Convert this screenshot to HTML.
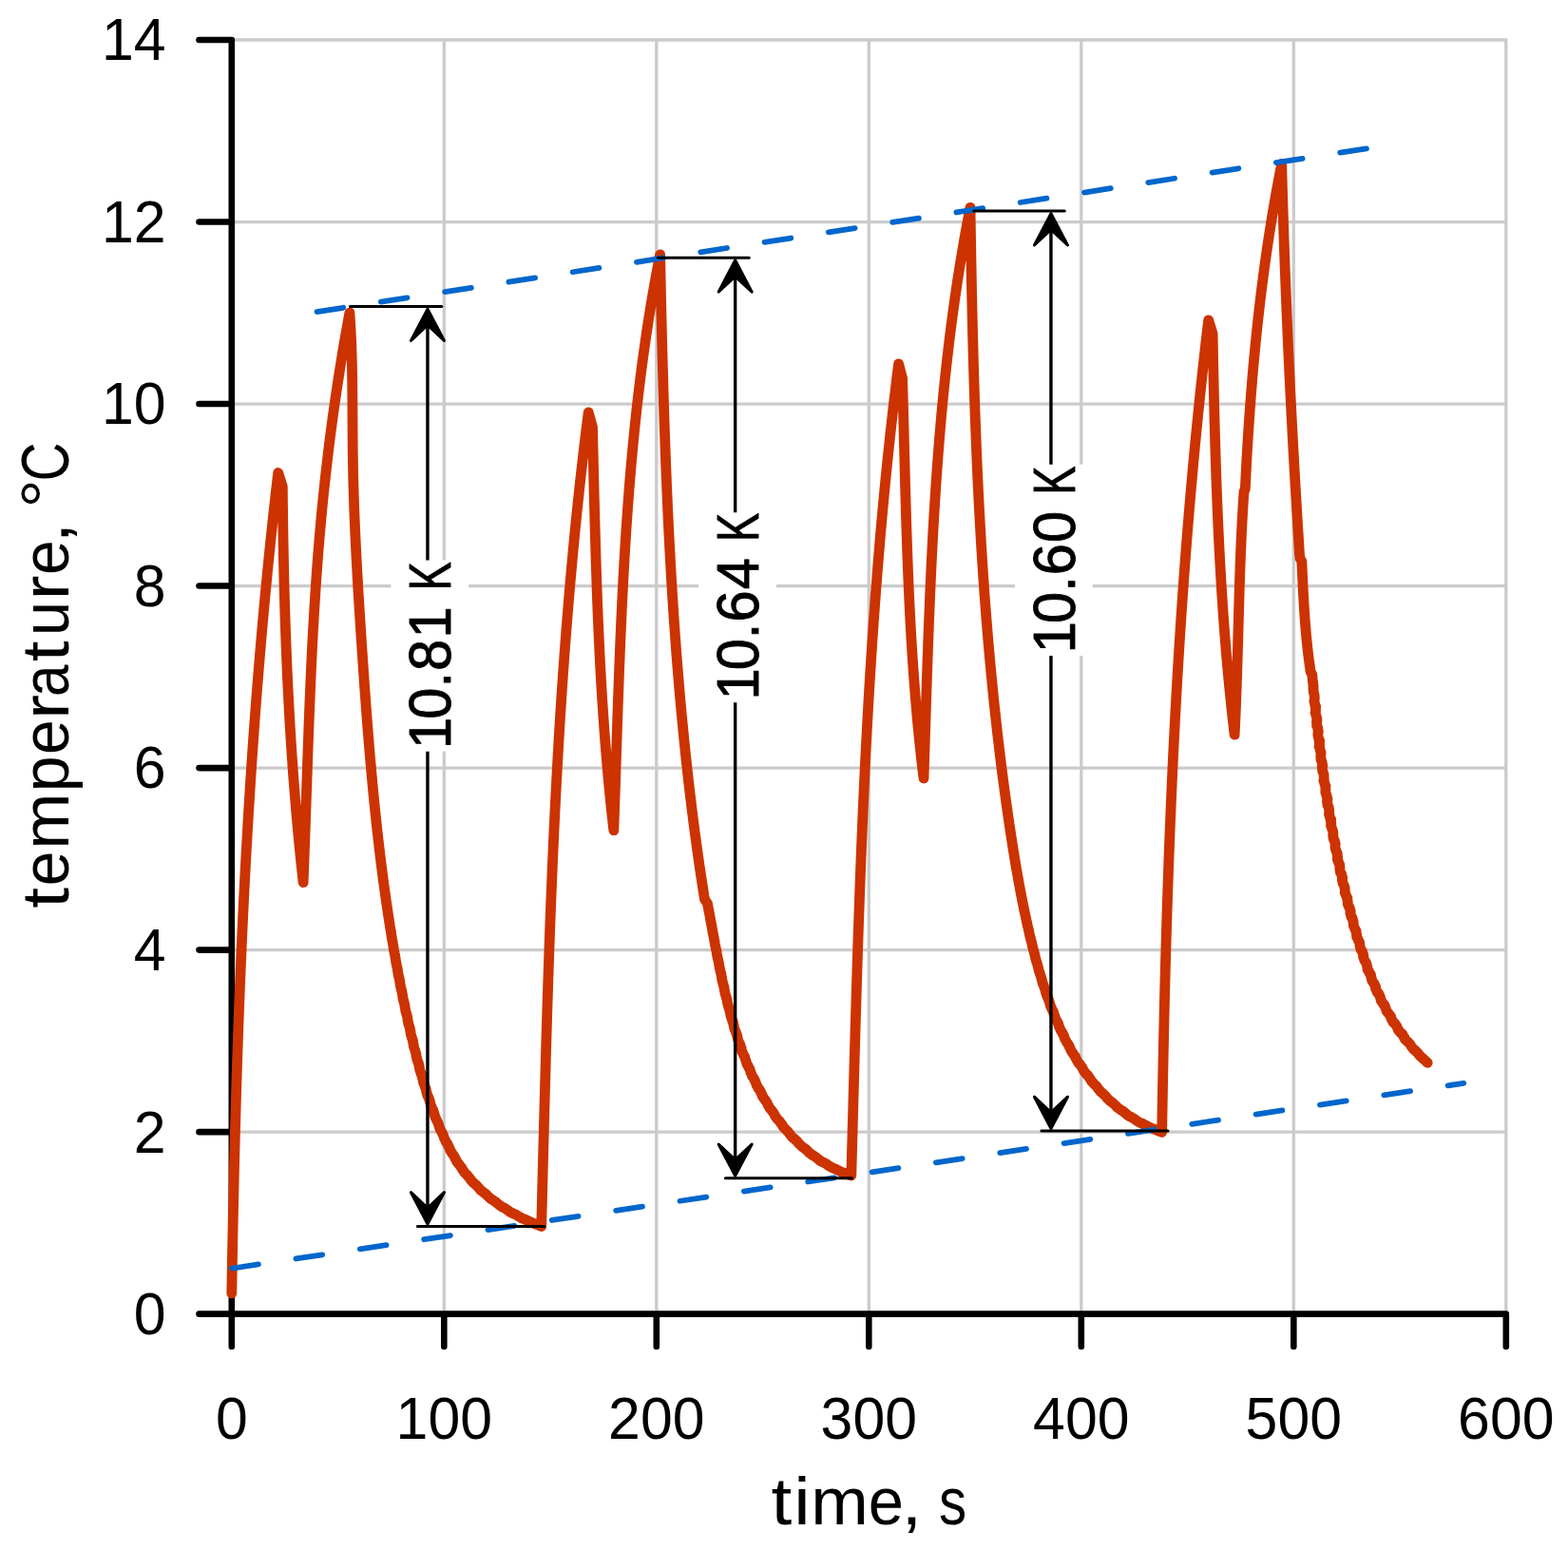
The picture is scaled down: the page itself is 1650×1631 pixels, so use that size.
<!DOCTYPE html>
<html lang="en">
<head>
<meta charset="utf-8">
<title>temperature vs time</title>
<style>
html,body{margin:0;padding:0;background:#fff;}
body{width:1650px;height:1631px;overflow:hidden;}
svg{display:block;}
text{white-space:pre;}
</style>
</head>
<body>
<svg xmlns="http://www.w3.org/2000/svg" width="1650" height="1631" viewBox="0 0 1650 1631">
<rect width="1650" height="1631" fill="#fff"/>
<path d="M243.80 1382.65H1586.45M243.80 1191.13H1586.45M243.80 999.61H1586.45M243.80 808.09H1586.45M243.80 616.57H1586.45M243.80 425.05H1586.45M243.80 233.53H1586.45M243.80 42.01H1586.45M243.80 1382.65V40.36M467.30 1382.65V40.36M690.80 1382.65V40.36M914.30 1382.65V40.36M1137.80 1382.65V40.36M1361.30 1382.65V40.36M1584.80 1382.65V40.36" fill="none" stroke="#cbcbcb" stroke-width="3.3"/>
<rect x="411.4" y="589.4" width="81.7" height="201.3" fill="#fff"/>
<rect x="735.2" y="539.2" width="81.6" height="200.1" fill="#fff"/>
<rect x="1068.0" y="488.7" width="81.7" height="201.4" fill="#fff"/>
<path d="M243.80 42.01V1382.65M243.80 1382.65H1584.80M209.50 1382.65H243.80M209.50 1191.13H243.80M209.50 999.61H243.80M209.50 808.09H243.80M209.50 616.57H243.80M209.50 425.05H243.80M209.50 233.53H243.80M209.50 42.01H243.80M243.80 1382.65V1417.00M467.30 1382.65V1417.00M690.80 1382.65V1417.00M914.30 1382.65V1417.00M1137.80 1382.65V1417.00M1361.30 1382.65V1417.00M1584.80 1382.65V1417.00" fill="none" stroke="#000" stroke-width="6.6" stroke-linecap="round" stroke-linejoin="round"/>
<path d="M243.80 1360.90L243.87 1356.90L243.94 1352.89L244.01 1348.89L244.07 1344.88L244.15 1340.88L244.22 1336.88L244.29 1332.87L244.36 1328.87L244.44 1324.86L244.51 1320.86L244.59 1316.86L244.66 1312.85L244.74 1308.85L244.82 1304.84L244.90 1300.84L244.97 1296.84L245.06 1292.83L245.14 1288.83L245.22 1284.82L245.30 1280.82L245.39 1276.81L245.47 1272.81L245.56 1268.81L245.64 1264.80L245.73 1260.80L245.82 1256.79L245.91 1252.79L246.00 1248.78L246.09 1244.78L246.19 1240.78L246.28 1236.77L246.38 1232.77L246.47 1228.76L246.57 1224.76L246.67 1220.75L246.77 1216.75L246.87 1212.74L246.97 1208.74L247.07 1204.74L247.17 1200.73L247.28 1196.73L247.38 1192.72L247.49 1188.72L247.60 1184.71L247.71 1180.71L247.82 1176.71L247.93 1172.70L248.04 1168.70L248.16 1164.69L248.27 1160.69L248.39 1156.69L248.51 1152.68L248.63 1148.68L248.75 1144.67L248.87 1140.67L248.99 1136.67L249.12 1132.66L249.24 1128.66L249.37 1124.65L249.50 1120.65L249.63 1116.65L249.76 1112.64L249.89 1108.64L250.03 1104.64L250.16 1100.63L250.30 1096.63L250.44 1092.63L250.58 1088.62L250.72 1084.62L250.86 1080.62L251.00 1076.61L251.15 1072.61L251.29 1068.61L251.44 1064.60L251.59 1060.60L251.74 1056.60L251.90 1052.60L252.05 1048.59L252.21 1044.59L252.36 1040.59L252.52 1036.58L252.68 1032.58L252.85 1028.58L253.01 1024.58L253.17 1020.58L253.34 1016.57L253.51 1012.57L253.68 1008.57L253.85 1004.57L254.02 1000.57L254.20 996.56L254.38 992.56L254.55 988.56L254.73 984.56L254.92 980.56L255.10 976.56L255.29 972.56L255.47 968.55L255.66 964.55L255.85 960.55L256.04 956.55L256.24 952.55L256.43 948.55L256.63 944.55L256.83 940.55L257.03 936.55L257.24 932.55L257.44 928.55L257.65 924.55L257.86 920.55L258.07 916.55L258.28 912.55L258.49 908.55L258.71 904.55L258.93 900.55L259.15 896.55L259.37 892.55L259.59 888.56L259.82 884.56L260.05 880.56L260.28 876.56L260.51 872.56L260.74 868.56L260.98 864.56L261.22 860.57L261.46 856.57L261.70 852.57L261.94 848.57L262.19 844.58L262.44 840.58L262.69 836.58L262.94 832.58L263.19 828.59L263.45 824.59L263.71 820.59L263.97 816.60L264.23 812.60L264.50 808.61L264.76 804.61L265.03 800.61L265.31 796.62L265.58 792.62L265.86 788.63L266.13 784.63L266.41 780.64L266.70 776.64L266.98 772.65L267.27 768.65L267.56 764.66L267.85 760.67L268.15 756.67L268.44 752.68L268.74 748.68L269.04 744.69L269.35 740.70L269.65 736.70L269.96 732.71L270.27 728.72L270.58 724.73L270.90 720.73L271.22 716.74L271.54 712.75L271.86 708.76L272.18 704.77L272.51 700.77L272.84 696.78L273.17 692.79L273.51 688.80L273.85 684.81L274.19 680.82L274.53 676.83L274.87 672.84L275.22 668.85L275.57 664.86L275.92 660.87L276.28 656.88L276.63 652.89L276.99 648.90L277.36 644.92L277.72 640.93L278.09 636.94L278.46 632.95L278.83 628.96L279.21 624.98L279.59 620.99L279.97 617.00L280.35 613.02L280.74 609.03L281.13 605.04L281.52 601.06L281.92 597.07L282.31 593.08L282.71 589.10L283.12 585.11L283.52 581.13L283.93 577.14L284.34 573.16L284.76 569.17L285.17 565.19L285.59 561.21L286.02 557.22L286.44 553.24L286.87 549.26L287.30 545.27L287.73 541.29L288.17 537.31L288.61 533.33L289.05 529.35L289.50 525.36L289.95 521.38L290.40 517.40L290.85 513.42L291.31 509.44L291.77 505.46L292.23 501.48L292.70 497.50L297.30 512.00L297.34 516.01L297.38 520.02L297.42 524.03L297.47 528.04L297.51 532.05L297.56 536.06L297.62 540.07L297.67 544.09L297.73 548.10L297.78 552.11L297.85 556.12L297.91 560.13L297.98 564.14L298.04 568.15L298.11 572.16L298.19 576.18L298.26 580.19L298.34 584.20L298.42 588.21L298.51 592.22L298.60 596.23L298.68 600.24L298.78 604.26L298.87 608.27L298.97 612.28L299.07 616.29L299.18 620.30L299.28 624.31L299.39 628.32L299.51 632.34L299.62 636.35L299.74 640.36L299.87 644.37L299.99 648.38L300.12 652.39L300.26 656.40L300.39 660.41L300.53 664.42L300.67 668.43L300.82 672.44L300.97 676.45L301.12 680.46L301.28 684.47L301.44 688.48L301.61 692.49L301.77 696.50L301.95 700.51L302.12 704.52L302.30 708.53L302.48 712.54L302.67 716.54L302.86 720.55L303.06 724.56L303.25 728.57L303.46 732.58L303.66 736.58L303.88 740.59L304.09 744.60L304.31 748.60L304.53 752.61L304.76 756.61L304.99 760.62L305.23 764.63L305.47 768.63L305.72 772.63L305.96 776.64L306.22 780.64L306.48 784.65L306.74 788.65L307.01 792.65L307.28 796.66L307.56 800.66L307.84 804.66L308.13 808.66L308.42 812.66L308.71 816.66L309.01 820.66L309.32 824.66L309.63 828.66L309.94 832.66L310.27 836.66L310.59 840.66L310.92 844.66L311.26 848.65L311.60 852.65L311.94 856.65L312.30 860.64L312.65 864.64L313.01 868.63L313.38 872.63L313.75 876.62L314.13 880.62L314.51 884.61L314.90 888.60L315.30 892.60L315.70 896.59L316.10 900.58L316.51 904.57L316.93 908.56L317.35 912.55L317.78 916.54L318.21 920.53L318.65 924.51L319.10 928.50L319.26 924.49L319.42 920.49L319.57 916.48L319.73 912.47L319.88 908.46L320.03 904.45L320.18 900.44L320.33 896.43L320.47 892.43L320.62 888.42L320.76 884.41L320.91 880.40L321.05 876.39L321.19 872.37L321.33 868.36L321.47 864.35L321.61 860.34L321.75 856.33L321.88 852.32L322.02 848.31L322.16 844.30L322.29 840.29L322.43 836.27L322.57 832.26L322.70 828.25L322.84 824.24L322.98 820.22L323.11 816.21L323.25 812.20L323.39 808.19L323.53 804.18L323.67 800.16L323.81 796.15L323.95 792.14L324.09 788.13L324.24 784.11L324.38 780.10L324.53 776.09L324.67 772.08L324.82 768.06L324.97 764.05L325.12 760.04L325.28 756.03L325.43 752.01L325.59 748.00L325.75 743.99L325.91 739.98L326.07 735.97L326.23 731.96L326.40 727.94L326.57 723.93L326.74 719.92L326.92 715.91L327.10 711.90L327.28 707.89L327.46 703.88L327.64 699.87L327.83 695.86L328.03 691.85L328.22 687.84L328.42 683.83L328.62 679.82L328.83 675.81L329.04 671.80L329.25 667.79L329.46 663.79L329.69 659.78L329.91 655.77L330.14 651.76L330.37 647.76L330.61 643.75L330.85 639.75L331.09 635.74L331.34 631.73L331.60 627.73L331.85 623.72L332.12 619.72L332.39 615.72L332.66 611.71L332.94 607.71L333.22 603.71L333.51 599.70L333.80 595.70L334.10 591.70L334.41 587.70L334.72 583.70L335.03 579.70L335.35 575.70L335.68 571.70L336.02 567.70L336.35 563.70L336.70 559.71L337.05 555.71L337.41 551.71L337.77 547.72L338.14 543.72L338.52 539.73L338.90 535.73L339.29 531.74L339.69 527.75L340.09 523.75L340.50 519.76L340.91 515.77L341.34 511.78L341.76 507.79L342.20 503.80L342.64 499.81L343.09 495.83L343.54 491.84L344.00 487.85L344.47 483.87L344.94 479.88L345.42 475.90L345.91 471.91L346.40 467.93L346.90 463.95L347.40 459.97L347.92 455.99L348.44 452.01L348.96 448.03L349.50 444.05L350.04 440.07L350.58 436.10L351.13 432.12L351.69 428.15L352.26 424.18L352.83 420.20L353.41 416.23L354.00 412.26L354.59 408.29L355.19 404.32L355.80 400.35L356.41 396.39L357.03 392.42L357.66 388.45L358.29 384.49L358.94 380.53L359.58 376.56L360.24 372.60L360.90 368.64L361.57 364.68L362.24 360.73L362.93 356.77L363.62 352.81L364.31 348.86L365.02 344.90L365.73 340.95L366.44 337.00L367.17 333.05L367.90 329.10L368.05 331.09L368.19 333.09L368.32 335.08L368.45 337.07L368.58 339.07L368.70 341.06L368.82 343.06L368.93 345.05L369.04 347.05L369.15 349.05L369.25 351.04L369.34 353.04L369.43 355.04L369.52 357.03L369.61 359.03L369.69 361.03L369.77 363.03L369.84 365.02L369.91 367.02L369.98 369.02L370.04 371.02L370.11 373.02L370.16 375.02L370.22 377.02L370.27 379.02L370.32 381.02L370.37 383.02L370.41 385.02L370.46 387.02L370.50 389.02L370.53 391.02L370.57 393.02L370.60 395.02L370.63 397.03L370.66 399.03L370.69 401.03L370.72 403.03L370.74 405.03L370.76 407.04L370.78 409.04L370.80 411.04L370.82 413.04L370.84 415.04L370.86 417.05L370.87 419.05L370.89 421.05L370.90 423.05L370.91 425.06L370.92 427.06L370.93 429.06L370.94 431.07L370.96 433.07L370.97 435.07L370.98 437.07L370.99 439.08L371.00 441.08L371.01 443.08L371.02 445.09L371.03 447.09L371.04 449.09L371.05 451.09L371.06 453.10L371.07 455.10L371.08 457.10L371.10 459.11L371.11 461.11L371.13 463.11L371.14 465.11L371.16 467.11L371.18 469.12L371.20 471.12L371.22 473.12L371.25 475.12L371.27 477.12L371.30 479.12L371.33 481.13L371.36 483.13L371.39 485.13L371.42 487.13L371.46 489.13L371.50 491.13L371.53 493.13L371.58 495.13L371.62 497.13L371.66 499.13L371.71 501.13L371.76 503.13L371.81 505.13L371.86 507.13L371.91 509.13L371.96 511.13L372.02 513.13L372.08 515.13L372.13 517.12L372.19 519.12L372.26 521.12L372.32 523.12L372.39 525.12L372.45 527.12L372.52 529.12L372.59 531.11L372.66 533.11L372.73 535.11L372.80 537.11L372.88 539.11L372.96 541.10L373.03 543.10L373.11 545.10L373.19 547.10L373.27 549.09L373.36 551.09L373.44 553.09L373.53 555.08L373.61 557.08L373.70 559.08L373.79 561.07L373.88 563.07L373.97 565.07L374.07 567.06L374.16 569.06L374.25 571.06L374.35 573.05L374.45 575.05L374.55 577.05L374.65 579.04L374.75 581.04L374.85 583.04L374.95 585.03L375.05 587.03L375.16 589.02L375.26 591.02L375.37 593.02L375.48 595.01L375.59 597.01L375.70 599.00L375.81 601.00L375.92 603.00L376.03 604.99L376.14 606.99L376.26 608.98L376.37 610.98L376.49 612.97L376.60 614.97L376.72 616.97L376.84 618.96L376.95 620.96L377.07 622.95L377.19 624.95L377.31 626.94L377.44 628.94L377.56 630.94L377.68 632.93L377.80 634.93L377.93 636.92L378.05 638.92L378.18 640.91L378.30 642.91L378.43 644.91L378.56 646.90L378.68 648.90L378.81 650.89L378.94 652.89L379.07 654.89L379.20 656.88L379.33 658.88L379.46 660.87L379.59 662.87L379.72 664.87L379.85 666.86L379.98 668.86L380.11 670.85L380.25 672.85L380.38 674.85L380.51 676.84L380.65 678.84L380.78 680.84L380.91 682.83L381.05 684.83L381.18 686.83L381.32 688.82L381.45 690.82L381.59 692.82L381.73 694.81L381.86 696.81L382.00 698.81L382.14 700.80L382.27 702.80L382.41 704.80L382.55 706.79L382.69 708.79L382.83 710.79L382.97 712.78L383.11 714.78L383.25 716.78L383.39 718.78L383.53 720.77L383.67 722.77L383.82 724.77L383.96 726.76L384.11 728.76L384.25 730.76L384.40 732.75L384.54 734.75L384.69 736.75L384.83 738.74L384.98 740.74L385.13 742.74L385.28 744.73L385.43 746.73L385.58 748.73L385.73 750.73L385.88 752.72L386.04 754.72L386.19 756.71L386.34 758.71L386.50 760.71L386.65 762.70L386.81 764.70L386.97 766.70L387.13 768.69L387.29 770.69L387.45 772.69L387.61 774.68L387.77 776.68L387.93 778.67L388.09 780.67L388.26 782.66L388.42 784.66L388.59 786.66L388.76 788.65L388.92 790.65L389.09 792.64L389.26 794.64L389.43 796.63L389.61 798.63L389.78 800.62L389.95 802.62L390.13 804.61L390.31 806.60L390.48 808.60L390.66 810.59L390.84 812.59L391.02 814.58L391.20 816.57L391.39 818.57L391.57 820.56L391.76 822.55L391.94 824.55L392.13 826.54L392.32 828.53L392.51 830.53L392.70 832.52L392.89 834.51L393.09 836.50L393.28 838.50L393.48 840.49L393.67 842.48L393.87 844.47L394.07 846.46L394.28 848.45L394.48 850.45L394.68 852.44L394.89 854.43L395.10 856.42L395.30 858.41L395.51 860.40L395.73 862.39L395.94 864.38L396.15 866.37L396.37 868.36L396.58 870.35L396.80 872.34L397.02 874.32L397.24 876.31L397.47 878.30L397.69 880.29L397.92 882.28L398.15 884.26L398.38 886.25L398.61 888.24L398.84 890.23L399.07 892.21L399.31 894.20L399.55 896.18L399.78 898.17L400.03 900.16L400.27 902.14L400.51 904.13L400.76 906.11L401.00 908.10L401.25 910.08L401.50 912.07L401.76 914.05L402.01 916.03L402.27 918.02L402.53 920.00L402.78 921.98L403.05 923.96L403.31 925.95L403.57 927.93L403.84 929.91L404.11 931.89L404.38 933.87L404.65 935.85L404.93 937.83L405.20 939.81L405.49 941.79L405.77 943.77L406.04 945.75L406.32 947.73L406.60 949.71L406.91 951.69L407.22 953.66L407.50 955.64L407.80 957.62L408.04 959.60L408.35 961.58L408.67 963.55L408.99 965.52L409.34 967.49L409.59 969.48L409.90 971.45L410.15 973.44L410.48 975.41L410.86 977.37L411.18 979.34L411.55 981.31L411.77 983.30L412.08 985.27L412.39 987.25L412.73 989.22L413.18 991.17L413.47 993.15L413.84 995.11L414.06 997.10L414.36 999.08L414.76 1001.04L415.11 1003.01L415.61 1004.95L415.87 1006.93L416.20 1008.90L416.47 1010.88L416.76 1012.86L417.27 1014.80L417.62 1016.77L418.13 1018.71L418.38 1020.69L418.65 1022.68L419.01 1024.64L419.30 1026.62L419.91 1028.54L420.27 1030.51L420.71 1032.46L421.00 1034.44L421.20 1036.44L421.68 1038.38L422.02 1040.35L422.66 1042.26L423.05 1044.22L423.37 1046.20L423.73 1048.17L423.89 1050.18L424.50 1052.09L424.91 1054.05L425.51 1055.97L425.94 1057.92L426.13 1059.93L426.56 1061.88L426.78 1063.88L427.45 1065.78L427.97 1067.71L428.45 1069.66L428.92 1071.60L429.01 1073.63L429.53 1075.57L429.86 1077.54L430.55 1079.44L431.17 1081.35L431.48 1083.33L431.98 1085.27L432.05 1087.31L432.63 1089.23L433.16 1091.16L433.77 1093.08L434.47 1094.97L434.63 1096.99L435.12 1098.93L435.30 1100.95L435.91 1102.86L436.64 1104.75L437.13 1106.69L437.83 1108.58L437.92 1110.62L438.40 1112.57L438.80 1114.53L439.40 1116.45L440.27 1118.29L440.65 1120.26L441.28 1122.17L441.43 1124.20L441.91 1126.15L442.56 1128.05L443.14 1129.96L444.06 1131.78L444.38 1133.78L444.92 1135.70L445.24 1137.70L445.73 1139.64L446.61 1141.47L447.17 1143.39L448.06 1145.21L448.38 1147.20L448.85 1149.16L449.40 1151.08L449.93 1153.02L450.96 1154.78L451.53 1156.70L452.31 1158.55L452.73 1160.52L453.15 1162.49L453.95 1164.33L454.56 1166.24L455.65 1167.98L456.26 1169.88L456.91 1171.78L457.48 1173.70L457.93 1175.67L458.94 1177.43L459.66 1179.30L460.71 1181.03L461.40 1182.91L461.93 1184.86L462.70 1186.71L463.25 1188.66L464.40 1190.34L465.25 1192.16L466.20 1193.94L466.98 1195.78L467.48 1197.76L468.44 1199.53L469.18 1201.40L470.40 1203.04L471.39 1204.78L472.22 1206.61L473.13 1208.39L473.71 1210.36L474.85 1212.01L475.83 1213.76L477.04 1215.37L478.17 1217.02L478.95 1218.88L480.01 1220.57L480.79 1222.44L482.07 1223.99L483.31 1225.55L484.49 1227.16L485.77 1228.69L486.59 1230.55L487.80 1232.13L488.88 1233.81L490.24 1235.27L491.74 1236.62L492.91 1238.23L494.29 1239.67L495.29 1241.44L496.60 1242.93L498.01 1244.34L499.43 1245.75L501.08 1246.91L502.31 1248.50L503.73 1249.89L504.97 1251.47L506.38 1252.89L508.05 1254.02L509.53 1255.36L511.24 1256.42L512.58 1257.93L514.03 1259.31L515.53 1260.63L517.03 1261.96L518.88 1262.84L520.44 1264.09L522.14 1265.15L523.63 1266.51L525.12 1267.87L526.85 1268.89L528.47 1270.08L530.39 1270.80L532.04 1271.94L533.72 1273.04L535.35 1274.20L536.93 1275.48L538.82 1276.23L540.56 1277.23L542.48 1277.90L544.21 1278.92L545.89 1280.04L547.67 1280.97L549.39 1282.03L551.32 1282.66L553.14 1283.50L554.99 1284.27L556.80 1285.14L558.57 1286.10L560.43 1286.85L562.26 1287.67L564.15 1288.35L566.00 1289.10L567.85 1289.86L569.70 1290.60L569.80 1286.59L569.91 1282.58L570.01 1278.58L570.11 1274.57L570.22 1270.56L570.32 1266.55L570.42 1262.54L570.53 1258.53L570.63 1254.52L570.73 1250.51L570.84 1246.51L570.94 1242.50L571.04 1238.49L571.14 1234.48L571.25 1230.47L571.35 1226.46L571.45 1222.45L571.56 1218.44L571.66 1214.43L571.76 1210.42L571.87 1206.41L571.97 1202.40L572.07 1198.39L572.18 1194.38L572.28 1190.37L572.39 1186.36L572.49 1182.35L572.60 1178.34L572.70 1174.33L572.81 1170.32L572.92 1166.31L573.02 1162.30L573.13 1158.29L573.24 1154.28L573.35 1150.27L573.45 1146.26L573.56 1142.25L573.67 1138.23L573.78 1134.22L573.89 1130.21L574.00 1126.20L574.12 1122.19L574.23 1118.18L574.34 1114.17L574.45 1110.16L574.57 1106.15L574.68 1102.14L574.80 1098.13L574.92 1094.12L575.03 1090.11L575.15 1086.10L575.27 1082.08L575.39 1078.07L575.51 1074.06L575.63 1070.05L575.75 1066.04L575.88 1062.03L576.00 1058.02L576.13 1054.01L576.25 1050.00L576.38 1045.99L576.51 1041.98L576.63 1037.97L576.76 1033.96L576.89 1029.94L577.03 1025.93L577.16 1021.92L577.29 1017.91L577.43 1013.90L577.56 1009.89L577.70 1005.88L577.84 1001.87L577.98 997.86L578.12 993.85L578.26 989.84L578.41 985.83L578.55 981.82L578.70 977.81L578.85 973.80L578.99 969.79L579.14 965.78L579.30 961.77L579.45 957.76L579.60 953.75L579.76 949.74L579.92 945.73L580.08 941.72L580.24 937.71L580.40 933.70L580.56 929.70L580.73 925.69L580.89 921.68L581.06 917.67L581.23 913.66L581.40 909.65L581.57 905.64L581.75 901.63L581.93 897.63L582.10 893.62L582.28 889.61L582.46 885.60L582.65 881.59L582.83 877.58L583.02 873.58L583.21 869.57L583.40 865.56L583.59 861.55L583.79 857.55L583.98 853.54L584.18 849.53L584.38 845.53L584.58 841.52L584.79 837.51L584.99 833.51L585.20 829.50L585.41 825.49L585.62 821.49L585.84 817.48L586.06 813.48L586.27 809.47L586.50 805.46L586.72 801.46L586.94 797.45L587.17 793.45L587.40 789.44L587.63 785.44L587.87 781.43L588.10 777.43L588.34 773.43L588.58 769.42L588.83 765.42L589.07 761.41L589.32 757.41L589.57 753.41L589.83 749.40L590.08 745.40L590.34 741.40L590.60 737.39L590.86 733.39L591.13 729.39L591.40 725.39L591.67 721.39L591.94 717.38L592.22 713.38L592.49 709.38L592.78 705.38L593.06 701.38L593.35 697.38L593.64 693.38L593.93 689.38L594.22 685.38L594.52 681.38L594.82 677.38L595.12 673.38L595.43 669.38L595.74 665.38L596.05 661.38L596.36 657.38L596.68 653.39L597.00 649.39L597.33 645.39L597.65 641.39L597.98 637.39L598.31 633.40L598.65 629.40L598.99 625.40L599.33 621.41L599.67 617.41L600.02 613.42L600.37 609.42L600.73 605.43L601.08 601.43L601.44 597.44L601.81 593.44L602.17 589.45L602.54 585.45L602.92 581.46L603.29 577.47L603.67 573.47L604.05 569.48L604.44 565.49L604.83 561.49L605.22 557.50L605.62 553.51L606.02 549.52L606.42 545.53L606.83 541.54L607.24 537.55L607.66 533.56L608.07 529.57L608.49 525.58L608.92 521.59L609.35 517.60L609.78 513.61L610.21 509.62L610.65 505.63L611.10 501.64L611.54 497.66L611.99 493.67L612.45 489.68L612.90 485.70L613.36 481.71L613.83 477.72L614.30 473.74L614.77 469.75L615.25 465.77L615.73 461.78L616.21 457.80L616.70 453.81L617.19 449.83L617.69 445.85L618.19 441.86L618.69 437.88L619.20 433.90L623.50 449.40L623.60 453.41L623.69 457.42L623.79 461.42L623.88 465.43L623.98 469.44L624.07 473.45L624.17 477.46L624.26 481.46L624.36 485.47L624.45 489.48L624.55 493.49L624.65 497.50L624.74 501.51L624.84 505.52L624.94 509.52L625.03 513.53L625.13 517.54L625.23 521.55L625.33 525.56L625.44 529.57L625.54 533.58L625.64 537.59L625.75 541.60L625.85 545.61L625.96 549.61L626.07 553.62L626.18 557.63L626.29 561.64L626.40 565.65L626.52 569.66L626.63 573.67L626.75 577.68L626.87 581.68L626.99 585.69L627.12 589.70L627.25 593.71L627.37 597.72L627.50 601.73L627.64 605.73L627.77 609.74L627.91 613.75L628.05 617.76L628.20 621.76L628.34 625.77L628.49 629.78L628.64 633.79L628.80 637.79L628.95 641.80L629.12 645.81L629.28 649.81L629.45 653.82L629.62 657.82L629.79 661.83L629.97 665.84L630.15 669.84L630.33 673.85L630.52 677.85L630.71 681.86L630.91 685.86L631.11 689.87L631.31 693.87L631.52 697.87L631.73 701.88L631.95 705.88L632.17 709.88L632.39 713.89L632.62 717.89L632.86 721.89L633.09 725.89L633.34 729.89L633.58 733.90L633.84 737.90L634.09 741.90L634.36 745.90L634.62 749.90L634.90 753.90L635.17 757.90L635.46 761.90L635.74 765.89L636.04 769.89L636.34 773.89L636.64 777.89L636.95 781.89L637.27 785.88L637.59 789.88L637.91 793.87L638.25 797.87L638.59 801.87L638.93 805.86L639.28 809.85L639.64 813.85L640.00 817.84L640.38 821.83L640.75 825.83L641.13 829.82L641.52 833.81L641.92 837.80L642.32 841.79L642.73 845.78L643.15 849.77L643.57 853.76L644.01 857.75L644.44 861.74L644.89 865.73L645.34 869.71L645.80 873.70L645.94 869.71L646.09 865.71L646.23 861.72L646.37 857.72L646.51 853.72L646.65 849.73L646.79 845.73L646.92 841.73L647.06 837.73L647.19 833.74L647.33 829.74L647.46 825.74L647.60 821.74L647.73 817.74L647.86 813.74L647.99 809.74L648.13 805.74L648.26 801.74L648.39 797.74L648.52 793.74L648.65 789.74L648.79 785.74L648.92 781.74L649.05 777.74L649.19 773.73L649.32 769.73L649.45 765.73L649.59 761.73L649.72 757.73L649.86 753.72L650.00 749.72L650.14 745.72L650.27 741.72L650.41 737.71L650.56 733.71L650.70 729.71L650.84 725.71L650.99 721.70L651.13 717.70L651.28 713.70L651.43 709.69L651.58 705.69L651.73 701.69L651.89 697.68L652.04 693.68L652.20 689.68L652.36 685.68L652.52 681.67L652.69 677.67L652.85 673.67L653.02 669.67L653.19 665.66L653.37 661.66L653.54 657.66L653.72 653.66L653.90 649.66L654.09 645.66L654.27 641.65L654.46 637.65L654.65 633.65L654.85 629.65L655.05 625.65L655.25 621.65L655.45 617.65L655.66 613.65L655.87 609.65L656.09 605.65L656.31 601.65L656.53 597.66L656.75 593.66L656.98 589.66L657.22 585.66L657.45 581.66L657.69 577.67L657.94 573.67L658.19 569.67L658.44 565.68L658.70 561.68L658.96 557.69L659.23 553.69L659.50 549.70L659.77 545.71L660.05 541.71L660.34 537.72L660.63 533.73L660.92 529.74L661.22 525.75L661.52 521.75L661.83 517.76L662.14 513.77L662.46 509.79L662.79 505.80L663.12 501.81L663.45 497.82L663.79 493.83L664.14 489.85L664.49 485.86L664.85 481.88L665.21 477.89L665.58 473.91L665.95 469.93L666.34 465.94L666.72 461.96L667.12 457.98L667.51 454.00L667.92 450.02L668.33 446.04L668.75 442.06L669.17 438.09L669.61 434.11L670.04 430.13L670.49 426.16L670.94 422.18L671.40 418.21L671.86 414.24L672.33 410.26L672.81 406.29L673.30 402.32L673.79 398.35L674.29 394.38L674.80 390.42L675.32 386.45L675.84 382.48L676.37 378.52L676.91 374.55L677.46 370.59L678.01 366.63L678.57 362.67L679.14 358.71L679.72 354.75L680.30 350.79L680.90 346.83L681.50 342.87L682.11 338.92L682.73 334.96L683.36 331.01L683.99 327.06L684.64 323.11L685.29 319.15L685.95 315.21L686.62 311.26L687.30 307.31L687.99 303.36L688.69 299.42L689.39 295.47L690.11 291.53L690.83 287.59L691.57 283.65L692.31 279.71L693.07 275.77L693.83 271.84L694.60 267.90L694.68 271.90L694.77 275.90L694.85 279.91L694.93 283.91L695.02 287.91L695.10 291.92L695.19 295.92L695.28 299.92L695.36 303.93L695.45 307.93L695.54 311.93L695.63 315.94L695.72 319.94L695.81 323.94L695.90 327.95L696.00 331.95L696.09 335.95L696.18 339.96L696.28 343.96L696.38 347.96L696.47 351.97L696.57 355.97L696.67 359.98L696.77 363.98L696.88 367.98L696.98 371.99L697.08 375.99L697.19 380.00L697.30 384.00L697.41 388.00L697.52 392.01L697.63 396.01L697.74 400.02L697.86 404.02L697.97 408.02L698.09 412.03L698.21 416.03L698.33 420.04L698.45 424.04L698.58 428.04L698.70 432.05L698.83 436.05L698.96 440.06L699.09 444.06L699.22 448.06L699.36 452.07L699.49 456.07L699.63 460.07L699.77 464.08L699.92 468.08L700.06 472.08L700.21 476.09L700.36 480.09L700.51 484.09L700.66 488.09L700.82 492.10L700.98 496.10L701.14 500.10L701.30 504.10L701.46 508.11L701.63 512.11L701.80 516.11L701.97 520.11L702.15 524.12L702.33 528.12L702.51 532.12L702.69 536.12L702.87 540.12L703.06 544.12L703.25 548.12L703.44 552.12L703.64 556.13L703.84 560.13L704.04 564.13L704.24 568.13L704.45 572.13L704.66 576.13L704.87 580.13L705.09 584.13L705.31 588.12L705.53 592.12L705.76 596.12L705.99 600.12L706.22 604.12L706.45 608.12L706.69 612.12L706.93 616.11L707.18 620.11L707.42 624.11L707.67 628.11L707.93 632.10L708.19 636.10L708.45 640.10L708.71 644.09L708.98 648.09L709.25 652.09L709.53 656.08L709.81 660.08L710.09 664.07L710.38 668.07L710.67 672.06L710.96 676.05L711.26 680.05L711.56 684.04L711.86 688.03L712.17 692.03L712.49 696.02L712.80 700.01L713.12 704.00L713.45 708.00L713.78 711.99L714.11 715.98L714.45 719.97L714.79 723.96L715.13 727.95L715.48 731.94L715.83 735.93L716.19 739.91L716.55 743.90L716.92 747.89L717.29 751.88L717.66 755.86L718.04 759.85L718.43 763.84L718.81 767.82L719.21 771.81L719.60 775.79L720.00 779.77L720.41 783.76L720.82 787.74L721.23 791.72L721.65 795.71L722.08 799.69L722.51 803.67L722.94 807.65L723.38 811.63L723.83 815.61L724.28 819.59L724.73 823.57L725.19 827.54L725.65 831.52L726.12 835.50L726.60 839.47L727.08 843.45L727.56 847.42L728.05 851.40L728.55 855.37L729.05 859.34L729.56 863.31L730.07 867.29L730.59 871.26L731.11 875.23L731.64 879.20L732.17 883.16L732.71 887.13L733.26 891.10L733.81 895.07L734.37 899.03L734.93 903.00L735.50 906.96L736.08 910.92L736.66 914.89L737.25 918.85L737.84 922.81L738.44 926.77L739.04 930.73L739.66 934.69L740.28 938.64L740.90 942.60L741.60 946.50L744.40 950.50L744.76 952.40L745.12 954.30L745.48 956.21L745.85 958.11L746.21 960.03L746.58 961.94L746.94 963.87L747.26 965.80L747.63 967.72L747.97 969.66L748.37 971.58L748.76 973.51L749.10 975.46L749.47 977.40L749.72 979.37L750.12 981.31L750.50 983.26L750.91 985.20L751.37 987.14L751.63 989.12L752.00 991.08L752.26 993.06L752.67 995.02L753.14 996.97L753.52 998.93L754.00 1000.88L754.21 1002.89L754.58 1004.86L754.91 1006.84L755.33 1008.81L755.91 1010.75L756.24 1012.74L756.70 1014.70L756.90 1016.72L757.27 1018.70L757.73 1020.67L758.17 1022.64L758.81 1024.57L759.08 1026.58L759.51 1028.56L759.75 1030.58L760.16 1032.56L760.77 1034.50L761.21 1036.48L761.87 1038.41L762.08 1040.44L762.49 1042.42L762.84 1044.42L763.31 1046.40L764.07 1048.30L764.48 1050.29L765.10 1052.22L765.30 1054.26L765.71 1056.25L766.24 1058.20L766.78 1060.16L767.63 1062.03L767.98 1064.03L768.55 1065.98L768.79 1068.01L769.26 1069.99L770.01 1071.88L770.58 1073.82L771.46 1075.67L771.75 1077.69L772.26 1079.65L772.66 1081.64L773.21 1083.59L774.17 1085.41L774.72 1087.35L775.57 1089.20L775.85 1091.23L776.34 1093.19L776.97 1095.10L777.60 1097.02L778.72 1098.76L779.23 1100.71L779.99 1102.58L780.35 1104.58L780.86 1106.54L781.78 1108.34L782.47 1110.23L783.62 1111.93L784.14 1113.88L784.78 1115.78L785.36 1117.71L785.92 1119.65L787.08 1121.33L787.84 1123.19L788.91 1124.90L789.51 1126.82L790.06 1128.76L790.91 1130.57L791.57 1132.46L792.87 1134.06L793.72 1135.87L794.65 1137.63L795.40 1139.48L795.92 1141.44L797.02 1143.12L797.85 1144.94L799.15 1146.50L800.13 1148.23L800.91 1150.08L801.84 1151.83L802.45 1153.77L803.71 1155.35L804.77 1157.03L805.98 1158.63L807.11 1160.27L807.80 1162.18L808.89 1163.85L809.71 1165.69L811.04 1167.20L812.33 1168.73L813.43 1170.39L814.66 1171.96L815.39 1173.88L816.59 1175.47L817.70 1177.13L819.04 1178.62L820.53 1179.98L821.55 1181.71L822.83 1183.22L823.73 1185.05L824.99 1186.59L826.42 1187.99L827.74 1189.48L829.34 1190.72L830.39 1192.44L831.67 1193.95L832.85 1195.57L834.16 1197.06L835.84 1198.20L837.18 1199.66L838.78 1200.86L839.98 1202.47L841.25 1204.00L842.73 1205.33L844.12 1206.75L845.93 1207.69L847.38 1209.03L848.92 1210.28L850.33 1211.68L851.64 1213.22L853.36 1214.25L854.90 1215.50L856.73 1216.36L858.34 1217.52L859.82 1218.86L861.45 1220.01L862.89 1221.44L864.75 1222.23L866.48 1223.23L868.29 1224.09L870.04 1225.06L871.57 1226.41L873.36 1227.33L875.05 1228.44L876.96 1229.13L878.82 1229.92L880.63 1230.83L882.47 1231.67L884.24 1232.70L886.14 1233.43L888.03 1234.22L889.97 1234.89L891.91 1235.60L893.84 1236.33L895.80 1237.00L895.91 1233.00L896.02 1229.01L896.13 1225.01L896.24 1221.01L896.36 1217.02L896.47 1213.02L896.58 1209.02L896.69 1205.03L896.80 1201.03L896.91 1197.03L897.02 1193.03L897.12 1189.04L897.23 1185.04L897.34 1181.04L897.45 1177.04L897.56 1173.05L897.67 1169.05L897.78 1165.05L897.89 1161.05L898.00 1157.06L898.11 1153.06L898.22 1149.06L898.33 1145.06L898.44 1141.06L898.55 1137.06L898.66 1133.07L898.78 1129.07L898.89 1125.07L899.00 1121.07L899.11 1117.07L899.22 1113.07L899.34 1109.07L899.45 1105.08L899.56 1101.08L899.68 1097.08L899.79 1093.08L899.90 1089.08L900.02 1085.08L900.13 1081.08L900.25 1077.08L900.37 1073.09L900.48 1069.09L900.60 1065.09L900.72 1061.09L900.84 1057.09L900.96 1053.09L901.08 1049.09L901.20 1045.09L901.32 1041.09L901.44 1037.09L901.56 1033.10L901.69 1029.10L901.81 1025.10L901.94 1021.10L902.06 1017.10L902.19 1013.10L902.32 1009.10L902.44 1005.10L902.57 1001.10L902.70 997.10L902.83 993.11L902.97 989.11L903.10 985.11L903.23 981.11L903.37 977.11L903.50 973.11L903.64 969.11L903.78 965.11L903.92 961.11L904.06 957.12L904.20 953.12L904.34 949.12L904.48 945.12L904.63 941.12L904.77 937.12L904.92 933.12L905.07 929.13L905.22 925.13L905.37 921.13L905.52 917.13L905.67 913.13L905.83 909.14L905.98 905.14L906.14 901.14L906.30 897.14L906.46 893.14L906.62 889.15L906.78 885.15L906.95 881.15L907.11 877.15L907.28 873.16L907.45 869.16L907.62 865.16L907.79 861.17L907.97 857.17L908.14 853.17L908.32 849.17L908.50 845.18L908.68 841.18L908.86 837.18L909.04 833.19L909.23 829.19L909.41 825.20L909.60 821.20L909.79 817.20L909.98 813.21L910.18 809.21L910.37 805.22L910.57 801.22L910.77 797.23L910.97 793.23L911.18 789.24L911.38 785.24L911.59 781.25L911.80 777.25L912.01 773.26L912.22 769.26L912.44 765.27L912.65 761.27L912.87 757.28L913.10 753.29L913.32 749.29L913.55 745.30L913.77 741.30L914.00 737.31L914.24 733.32L914.47 729.33L914.71 725.33L914.95 721.34L915.19 717.35L915.43 713.36L915.68 709.36L915.93 705.37L916.18 701.38L916.43 697.39L916.68 693.40L916.94 689.41L917.20 685.41L917.46 681.42L917.73 677.43L918.00 673.44L918.27 669.45L918.54 665.46L918.82 661.47L919.09 657.48L919.37 653.49L919.66 649.50L919.94 645.51L920.23 641.53L920.52 637.54L920.81 633.55L921.11 629.56L921.41 625.57L921.71 621.59L922.02 617.60L922.32 613.61L922.63 609.62L922.95 605.64L923.26 601.65L923.58 597.66L923.90 593.68L924.23 589.69L924.56 585.71L924.89 581.72L925.22 577.73L925.56 573.75L925.89 569.76L926.24 565.78L926.58 561.80L926.93 557.81L927.28 553.83L927.64 549.84L928.00 545.86L928.36 541.88L928.72 537.90L929.09 533.91L929.46 529.93L929.83 525.95L930.21 521.97L930.59 517.99L930.97 514.01L931.36 510.02L931.75 506.04L932.14 502.06L932.54 498.08L932.94 494.10L933.34 490.13L933.75 486.15L934.16 482.17L934.57 478.19L934.99 474.21L935.41 470.23L935.84 466.26L936.27 462.28L936.70 458.30L937.13 454.32L937.57 450.35L938.01 446.37L938.46 442.40L938.91 438.42L939.36 434.45L939.82 430.47L940.28 426.50L940.74 422.52L941.21 418.55L941.69 414.58L942.16 410.60L942.64 406.63L943.12 402.66L943.61 398.68L944.10 394.71L944.60 390.74L945.10 386.77L945.60 382.80L949.60 398.20L949.72 402.21L949.83 406.22L949.94 410.23L950.06 414.25L950.17 418.26L950.28 422.27L950.38 426.28L950.49 430.30L950.60 434.31L950.70 438.32L950.81 442.33L950.91 446.35L951.02 450.36L951.12 454.37L951.22 458.39L951.32 462.40L951.43 466.42L951.53 470.43L951.63 474.44L951.74 478.46L951.84 482.47L951.94 486.48L952.05 490.50L952.15 494.51L952.26 498.53L952.36 502.54L952.47 506.56L952.58 510.57L952.69 514.58L952.80 518.60L952.91 522.61L953.02 526.63L953.14 530.64L953.26 534.65L953.37 538.67L953.49 542.68L953.62 546.70L953.74 550.71L953.87 554.72L953.99 558.74L954.13 562.75L954.26 566.76L954.39 570.78L954.53 574.79L954.67 578.80L954.82 582.81L954.97 586.83L955.12 590.84L955.27 594.85L955.42 598.86L955.58 602.88L955.75 606.89L955.91 610.90L956.09 614.91L956.26 618.92L956.44 622.93L956.62 626.94L956.81 630.95L957.00 634.96L957.19 638.97L957.39 642.98L957.59 646.99L957.80 651.00L958.01 655.01L958.23 659.02L958.45 663.02L958.68 667.03L958.91 671.04L959.15 675.05L959.39 679.05L959.64 683.06L959.89 687.06L960.15 691.07L960.42 695.08L960.69 699.08L960.96 703.08L961.25 707.09L961.54 711.09L961.83 715.10L962.13 719.10L962.44 723.10L962.75 727.10L963.07 731.10L963.40 735.10L963.74 739.10L964.08 743.10L964.42 747.10L964.78 751.10L965.14 755.10L965.51 759.10L965.89 763.10L966.27 767.09L966.66 771.09L967.06 775.09L967.47 779.08L967.89 783.07L968.31 787.07L968.74 791.06L969.18 795.06L969.63 799.05L970.09 803.04L970.55 807.03L971.03 811.02L971.51 815.01L972.00 819.00L972.13 814.98L972.26 810.97L972.39 806.95L972.52 802.93L972.65 798.92L972.78 794.90L972.91 790.88L973.04 786.86L973.17 782.84L973.30 778.83L973.42 774.81L973.55 770.79L973.68 766.77L973.81 762.75L973.93 758.73L974.06 754.71L974.19 750.69L974.32 746.67L974.45 742.65L974.58 738.63L974.71 734.61L974.84 730.59L974.97 726.57L975.10 722.54L975.23 718.52L975.37 714.50L975.50 710.48L975.64 706.46L975.78 702.44L975.91 698.42L976.05 694.39L976.19 690.37L976.34 686.35L976.48 682.33L976.62 678.31L976.77 674.28L976.92 670.26L977.07 666.24L977.22 662.22L977.37 658.20L977.53 654.18L977.69 650.16L977.84 646.13L978.01 642.11L978.17 638.09L978.34 634.07L978.50 630.05L978.67 626.03L978.85 622.01L979.02 617.99L979.20 613.97L979.38 609.95L979.56 605.93L979.75 601.91L979.94 597.89L980.13 593.87L980.33 589.85L980.53 585.83L980.73 581.81L980.93 577.79L981.14 573.77L981.35 569.75L981.56 565.73L981.78 561.72L982.00 557.70L982.23 553.68L982.46 549.67L982.69 545.65L982.93 541.63L983.17 537.62L983.41 533.60L983.66 529.59L983.91 525.57L984.17 521.56L984.43 517.54L984.69 513.53L984.96 509.52L985.24 505.50L985.51 501.49L985.80 497.48L986.08 493.47L986.38 489.46L986.67 485.45L986.98 481.44L987.28 477.43L987.59 473.42L987.91 469.41L988.23 465.40L988.56 461.39L988.89 457.39L989.23 453.38L989.57 449.37L989.92 445.37L990.27 441.36L990.63 437.36L991.00 433.35L991.37 429.35L991.75 425.35L992.13 421.35L992.52 417.35L992.91 413.35L993.31 409.35L993.72 405.35L994.13 401.35L994.55 397.35L994.98 393.35L995.41 389.36L995.85 385.36L996.29 381.36L996.74 377.37L997.20 373.38L997.67 369.38L998.14 365.39L998.62 361.40L999.10 357.41L999.59 353.42L1000.09 349.43L1000.60 345.44L1001.11 341.45L1001.63 337.47L1002.16 333.48L1002.70 329.50L1003.24 325.51L1003.79 321.53L1004.35 317.55L1004.92 313.57L1005.49 309.59L1006.08 305.61L1006.67 301.63L1007.26 297.65L1007.87 293.67L1008.48 289.70L1009.11 285.72L1009.74 281.75L1010.37 277.77L1011.02 273.80L1011.68 269.83L1012.34 265.86L1013.01 261.89L1013.70 257.92L1014.39 253.96L1015.08 249.99L1015.79 246.02L1016.51 242.06L1017.23 238.10L1017.97 234.14L1018.71 230.18L1019.47 226.22L1020.23 222.26L1021.00 218.30L1021.03 220.30L1021.06 222.30L1021.10 224.30L1021.13 226.31L1021.16 228.31L1021.19 230.31L1021.23 232.31L1021.26 234.31L1021.29 236.31L1021.33 238.31L1021.36 240.31L1021.39 242.31L1021.43 244.32L1021.46 246.32L1021.50 248.32L1021.53 250.32L1021.57 252.32L1021.60 254.32L1021.64 256.32L1021.67 258.32L1021.71 260.32L1021.74 262.32L1021.78 264.32L1021.81 266.32L1021.85 268.33L1021.89 270.33L1021.92 272.33L1021.96 274.33L1022.00 276.33L1022.03 278.33L1022.07 280.33L1022.11 282.33L1022.15 284.33L1022.19 286.33L1022.23 288.33L1022.26 290.33L1022.30 292.33L1022.34 294.33L1022.38 296.33L1022.42 298.33L1022.46 300.33L1022.50 302.33L1022.54 304.33L1022.59 306.33L1022.63 308.33L1022.67 310.33L1022.71 312.33L1022.75 314.33L1022.80 316.33L1022.84 318.33L1022.88 320.33L1022.93 322.33L1022.97 324.33L1023.02 326.33L1023.06 328.33L1023.11 330.33L1023.15 332.33L1023.20 334.33L1023.24 336.33L1023.29 338.33L1023.34 340.33L1023.38 342.33L1023.43 344.33L1023.48 346.33L1023.53 348.33L1023.58 350.33L1023.63 352.33L1023.68 354.33L1023.73 356.33L1023.78 358.33L1023.83 360.33L1023.88 362.33L1023.93 364.32L1023.98 366.32L1024.04 368.32L1024.09 370.32L1024.14 372.32L1024.20 374.32L1024.25 376.32L1024.31 378.32L1024.36 380.32L1024.42 382.32L1024.47 384.32L1024.53 386.32L1024.59 388.31L1024.65 390.31L1024.71 392.31L1024.76 394.31L1024.82 396.31L1024.88 398.31L1024.94 400.31L1025.00 402.31L1025.07 404.31L1025.13 406.31L1025.19 408.30L1025.25 410.30L1025.32 412.30L1025.38 414.30L1025.44 416.30L1025.51 418.30L1025.57 420.30L1025.64 422.30L1025.71 424.29L1025.77 426.29L1025.84 428.29L1025.91 430.29L1025.98 432.29L1026.05 434.29L1026.12 436.28L1026.19 438.28L1026.26 440.28L1026.33 442.28L1026.41 444.28L1026.48 446.28L1026.55 448.28L1026.63 450.27L1026.70 452.27L1026.78 454.27L1026.85 456.27L1026.93 458.27L1027.01 460.26L1027.09 462.26L1027.16 464.26L1027.24 466.26L1027.32 468.26L1027.40 470.26L1027.49 472.25L1027.57 474.25L1027.65 476.25L1027.73 478.25L1027.82 480.25L1027.90 482.24L1027.99 484.24L1028.07 486.24L1028.16 488.24L1028.25 490.24L1028.34 492.23L1028.43 494.23L1028.52 496.23L1028.61 498.23L1028.70 500.22L1028.79 502.22L1028.88 504.22L1028.97 506.22L1029.07 508.22L1029.16 510.21L1029.26 512.21L1029.35 514.21L1029.45 516.21L1029.55 518.20L1029.65 520.20L1029.75 522.20L1029.85 524.20L1029.95 526.19L1030.05 528.19L1030.15 530.19L1030.25 532.19L1030.36 534.18L1030.46 536.18L1030.57 538.18L1030.68 540.18L1030.78 542.17L1030.89 544.17L1031.00 546.17L1031.11 548.16L1031.22 550.16L1031.33 552.16L1031.44 554.16L1031.56 556.15L1031.67 558.15L1031.78 560.15L1031.90 562.14L1032.02 564.14L1032.13 566.14L1032.25 568.14L1032.37 570.13L1032.49 572.13L1032.61 574.13L1032.73 576.12L1032.86 578.12L1032.98 580.12L1033.10 582.11L1033.23 584.11L1033.35 586.11L1033.48 588.11L1033.61 590.10L1033.74 592.10L1033.87 594.10L1034.00 596.09L1034.13 598.09L1034.26 600.09L1034.40 602.08L1034.53 604.08L1034.67 606.08L1034.80 608.07L1034.94 610.07L1035.08 612.07L1035.22 614.06L1035.36 616.06L1035.50 618.06L1035.64 620.05L1035.79 622.05L1035.93 624.05L1036.07 626.04L1036.22 628.04L1036.37 630.04L1036.52 632.03L1036.67 634.03L1036.82 636.03L1036.97 638.02L1037.12 640.02L1037.27 642.01L1037.43 644.01L1037.58 646.01L1037.74 648.00L1037.90 650.00L1038.05 651.99L1038.21 653.99L1038.37 655.99L1038.53 657.98L1038.70 659.98L1038.86 661.97L1039.03 663.97L1039.19 665.96L1039.36 667.96L1039.53 669.95L1039.69 671.95L1039.86 673.94L1040.04 675.94L1040.21 677.93L1040.38 679.93L1040.56 681.92L1040.73 683.92L1040.91 685.91L1041.09 687.91L1041.26 689.90L1041.44 691.90L1041.63 693.89L1041.81 695.88L1041.99 697.88L1042.17 699.87L1042.36 701.87L1042.55 703.86L1042.73 705.85L1042.92 707.85L1043.11 709.84L1043.30 711.83L1043.50 713.83L1043.69 715.82L1043.88 717.81L1044.08 719.80L1044.28 721.80L1044.48 723.79L1044.67 725.78L1044.87 727.77L1045.08 729.76L1045.28 731.75L1045.48 733.75L1045.69 735.74L1045.89 737.73L1046.10 739.72L1046.31 741.71L1046.52 743.70L1046.73 745.69L1046.94 747.68L1047.16 749.67L1047.37 751.66L1047.59 753.65L1047.81 755.64L1048.02 757.63L1048.24 759.62L1048.46 761.61L1048.69 763.60L1048.91 765.58L1049.13 767.57L1049.36 769.56L1049.59 771.55L1049.82 773.54L1050.04 775.52L1050.28 777.51L1050.51 779.50L1050.74 781.48L1050.98 783.47L1051.21 785.46L1051.45 787.44L1051.69 789.43L1051.93 791.42L1052.17 793.40L1052.41 795.39L1052.65 797.37L1052.90 799.36L1053.15 801.34L1053.39 803.32L1053.64 805.31L1053.89 807.29L1054.14 809.28L1054.40 811.26L1054.65 813.24L1054.91 815.22L1055.16 817.21L1055.42 819.19L1055.68 821.17L1055.94 823.15L1056.20 825.13L1056.47 827.11L1056.73 829.09L1057.00 831.08L1057.26 833.06L1057.53 835.04L1057.80 837.01L1058.08 838.99L1058.35 840.97L1058.62 842.95L1058.90 844.93L1059.18 846.91L1059.45 848.89L1059.73 850.86L1060.02 852.84L1060.30 854.82L1060.58 856.79L1060.87 858.77L1061.15 860.75L1061.44 862.72L1061.73 864.70L1062.02 866.67L1062.32 868.65L1062.61 870.62L1062.91 872.60L1063.20 874.57L1063.50 876.54L1063.80 878.52L1064.10 880.49L1064.41 882.46L1064.71 884.43L1065.02 886.40L1065.33 888.37L1065.64 890.35L1065.95 892.32L1066.26 894.29L1066.58 896.26L1066.90 898.23L1067.22 900.19L1067.54 902.16L1067.86 904.13L1068.19 906.10L1068.52 908.07L1068.85 910.03L1069.19 912.00L1069.52 913.97L1069.86 915.93L1070.20 917.90L1070.55 919.86L1070.90 921.83L1071.25 923.79L1071.60 925.76L1071.95 927.72L1072.31 929.68L1072.67 931.65L1073.04 933.61L1073.41 935.57L1073.78 937.53L1074.15 939.49L1074.53 941.45L1074.91 943.41L1075.28 945.37L1075.67 947.33L1076.08 949.29L1076.47 951.25L1076.89 953.20L1077.26 955.17L1077.65 957.13L1078.05 959.08L1078.46 961.04L1078.94 962.98L1079.34 964.94L1079.78 966.89L1080.15 968.86L1080.55 970.82L1081.03 972.77L1081.46 974.72L1082.01 976.65L1082.41 978.61L1082.84 980.57L1083.25 982.53L1083.65 984.50L1084.22 986.42L1084.69 988.37L1085.26 990.30L1085.67 992.26L1086.07 994.23L1086.56 996.18L1086.99 998.14L1087.66 1000.04L1088.16 1001.99L1088.70 1003.93L1089.15 1005.89L1089.51 1007.87L1090.12 1009.79L1090.61 1011.75L1091.34 1013.63L1091.87 1015.57L1092.35 1017.53L1092.86 1019.48L1093.24 1021.47L1093.98 1023.35L1094.55 1025.28L1095.29 1027.16L1095.86 1029.09L1096.26 1031.07L1096.87 1032.99L1097.31 1034.97L1098.17 1036.80L1098.84 1038.70L1099.53 1040.60L1100.14 1042.51L1100.50 1044.51L1101.24 1046.39L1101.81 1048.32L1102.74 1050.12L1103.49 1051.99L1104.08 1053.91L1104.76 1055.80L1105.14 1057.80L1106.03 1059.62L1106.76 1061.49L1107.69 1063.28L1108.53 1065.10L1109.01 1067.07L1109.79 1068.92L1110.28 1070.89L1111.28 1072.65L1112.20 1074.43L1113.06 1076.24L1113.97 1078.03L1114.40 1080.03L1115.27 1081.83L1115.97 1083.72L1117.02 1085.43L1118.14 1087.12L1118.88 1088.98L1119.85 1090.73L1120.32 1092.73L1121.28 1094.49L1122.25 1096.24L1123.30 1097.94L1124.56 1099.54L1125.22 1101.45L1126.20 1103.19L1126.86 1105.11L1127.88 1106.83L1129.14 1108.41L1130.16 1110.13L1131.45 1111.68L1132.14 1113.59L1133.11 1115.33L1134.07 1117.09L1135.13 1118.78L1136.61 1120.19L1137.61 1121.91L1138.87 1123.46L1139.71 1125.30L1140.67 1127.05L1141.94 1128.59L1143.07 1130.23L1144.65 1131.53L1145.73 1133.20L1146.89 1134.80L1147.96 1136.48L1148.96 1138.23L1150.49 1139.54L1151.73 1141.08L1153.29 1142.36L1154.52 1143.91L1155.59 1145.60L1156.92 1147.07L1158.04 1148.74L1159.70 1149.90L1161.13 1151.26L1162.58 1152.61L1163.99 1153.99L1165.07 1155.72L1166.58 1157.00L1167.92 1158.46L1169.60 1159.56L1171.24 1160.69L1172.60 1162.13L1174.15 1163.36L1175.36 1165.00L1176.97 1166.17L1178.59 1167.31L1180.24 1168.42L1182.03 1169.33L1183.41 1170.80L1185.02 1171.96L1186.48 1173.35L1188.15 1174.44L1190.01 1175.23L1191.67 1176.33L1193.52 1177.14L1195.02 1178.52L1196.69 1179.63L1198.42 1180.66L1200.18 1181.62L1202.14 1182.24L1203.88 1183.26L1205.72 1184.10L1207.45 1185.18L1209.26 1186.10L1211.16 1186.85L1213.04 1187.65L1214.99 1188.31L1216.87 1189.15L1218.80 1189.89L1220.73 1190.63L1222.70 1191.30L1222.77 1187.30L1222.83 1183.30L1222.90 1179.30L1222.97 1175.30L1223.03 1171.30L1223.10 1167.30L1223.17 1163.30L1223.24 1159.30L1223.31 1155.30L1223.39 1151.30L1223.46 1147.30L1223.53 1143.30L1223.61 1139.30L1223.68 1135.30L1223.76 1131.30L1223.84 1127.30L1223.92 1123.30L1224.00 1119.30L1224.08 1115.30L1224.16 1111.30L1224.24 1107.30L1224.33 1103.30L1224.41 1099.30L1224.50 1095.30L1224.58 1091.30L1224.67 1087.30L1224.76 1083.30L1224.85 1079.30L1224.94 1075.29L1225.03 1071.29L1225.12 1067.29L1225.22 1063.29L1225.31 1059.29L1225.41 1055.29L1225.50 1051.29L1225.60 1047.29L1225.70 1043.29L1225.80 1039.29L1225.90 1035.29L1226.01 1031.29L1226.11 1027.29L1226.22 1023.29L1226.32 1019.29L1226.43 1015.29L1226.54 1011.29L1226.65 1007.29L1226.76 1003.29L1226.88 999.29L1226.99 995.29L1227.11 991.29L1227.22 987.29L1227.34 983.29L1227.46 979.29L1227.58 975.29L1227.70 971.29L1227.83 967.29L1227.95 963.29L1228.08 959.29L1228.20 955.29L1228.33 951.29L1228.46 947.29L1228.59 943.29L1228.73 939.29L1228.86 935.29L1229.00 931.29L1229.14 927.29L1229.28 923.29L1229.42 919.29L1229.56 915.29L1229.70 911.29L1229.85 907.29L1229.99 903.29L1230.14 899.29L1230.29 895.29L1230.44 891.29L1230.59 887.30L1230.75 883.30L1230.91 879.30L1231.06 875.30L1231.22 871.30L1231.38 867.30L1231.55 863.30L1231.71 859.31L1231.88 855.31L1232.04 851.31L1232.21 847.31L1232.38 843.31L1232.56 839.31L1232.73 835.32L1232.91 831.32L1233.08 827.32L1233.26 823.32L1233.44 819.33L1233.63 815.33L1233.81 811.33L1234.00 807.33L1234.19 803.34L1234.38 799.34L1234.57 795.34L1234.76 791.35L1234.96 787.35L1235.16 783.35L1235.36 779.36L1235.56 775.36L1235.76 771.36L1235.97 767.37L1236.17 763.37L1236.38 759.37L1236.59 755.38L1236.81 751.38L1237.02 747.39L1237.24 743.39L1237.46 739.40L1237.68 735.40L1237.90 731.41L1238.13 727.41L1238.35 723.42L1238.58 719.42L1238.81 715.43L1239.04 711.43L1239.28 707.44L1239.52 703.45L1239.76 699.45L1240.00 695.46L1240.24 691.46L1240.49 687.47L1240.73 683.48L1240.98 679.48L1241.24 675.49L1241.49 671.50L1241.75 667.50L1242.01 663.51L1242.27 659.52L1242.53 655.53L1242.79 651.54L1243.06 647.54L1243.33 643.55L1243.60 639.56L1243.88 635.57L1244.15 631.58L1244.43 627.59L1244.71 623.59L1245.00 619.60L1245.28 615.61L1245.57 611.62L1245.86 607.63L1246.15 603.64L1246.45 599.65L1246.75 595.66L1247.05 591.67L1247.35 587.68L1247.65 583.69L1247.96 579.71L1248.27 575.72L1248.58 571.73L1248.90 567.74L1249.21 563.75L1249.53 559.76L1249.85 555.78L1250.18 551.79L1250.50 547.80L1250.83 543.81L1251.17 539.83L1251.50 535.84L1251.84 531.85L1252.18 527.87L1252.52 523.88L1252.86 519.90L1253.21 515.91L1253.56 511.92L1253.91 507.94L1254.27 503.95L1254.63 499.97L1254.99 495.98L1255.35 492.00L1255.71 488.02L1256.08 484.03L1256.45 480.05L1256.83 476.06L1257.20 472.08L1257.58 468.10L1257.97 464.12L1258.35 460.13L1258.74 456.15L1259.13 452.17L1259.52 448.19L1259.92 444.21L1260.32 440.22L1260.72 436.24L1261.12 432.26L1261.53 428.28L1261.94 424.30L1262.35 420.32L1262.77 416.34L1263.19 412.36L1263.61 408.38L1264.03 404.40L1264.46 400.42L1264.89 396.45L1265.32 392.47L1265.76 388.49L1266.20 384.51L1266.64 380.53L1267.08 376.56L1267.53 372.58L1267.98 368.60L1268.44 364.63L1268.89 360.65L1269.35 356.67L1269.82 352.70L1270.28 348.72L1270.75 344.75L1271.22 340.77L1271.70 336.80L1276.10 351.00L1276.17 355.03L1276.25 359.05L1276.32 363.08L1276.40 367.10L1276.48 371.13L1276.56 375.16L1276.63 379.18L1276.71 383.21L1276.80 387.23L1276.88 391.26L1276.96 395.29L1277.05 399.31L1277.13 403.34L1277.22 407.37L1277.31 411.39L1277.40 415.42L1277.49 419.45L1277.59 423.47L1277.68 427.50L1277.78 431.53L1277.88 435.56L1277.98 439.58L1278.08 443.61L1278.19 447.64L1278.30 451.66L1278.41 455.69L1278.52 459.72L1278.63 463.74L1278.75 467.77L1278.87 471.80L1278.99 475.82L1279.11 479.85L1279.24 483.87L1279.37 487.90L1279.50 491.93L1279.63 495.95L1279.77 499.98L1279.91 504.00L1280.06 508.03L1280.20 512.05L1280.35 516.08L1280.50 520.11L1280.66 524.13L1280.82 528.16L1280.98 532.18L1281.15 536.20L1281.31 540.23L1281.49 544.25L1281.66 548.28L1281.84 552.30L1282.03 556.32L1282.21 560.35L1282.40 564.37L1282.60 568.39L1282.80 572.42L1283.00 576.44L1283.21 580.46L1283.42 584.48L1283.63 588.50L1283.85 592.53L1284.08 596.55L1284.30 600.57L1284.54 604.59L1284.77 608.61L1285.01 612.63L1285.26 616.65L1285.51 620.67L1285.77 624.69L1286.03 628.70L1286.29 632.72L1286.56 636.74L1286.84 640.76L1287.12 644.78L1287.40 648.79L1287.69 652.81L1287.99 656.83L1288.29 660.84L1288.59 664.86L1288.91 668.87L1289.22 672.89L1289.55 676.90L1289.87 680.91L1290.21 684.93L1290.55 688.94L1290.89 692.95L1291.24 696.96L1291.60 700.98L1291.96 704.99L1292.33 709.00L1292.71 713.01L1293.09 717.02L1293.47 721.03L1293.87 725.04L1294.27 729.04L1294.67 733.05L1295.09 737.06L1295.51 741.07L1295.93 745.07L1296.36 749.08L1296.80 753.08L1297.25 757.09L1297.70 761.09L1298.16 765.09L1298.63 769.10L1299.10 773.10L1299.31 769.04L1299.51 764.99L1299.70 760.93L1299.89 756.88L1300.07 752.82L1300.24 748.76L1300.41 744.71L1300.57 740.65L1300.73 736.59L1300.88 732.54L1301.03 728.48L1301.18 724.42L1301.32 720.36L1301.45 716.30L1301.59 712.25L1301.72 708.19L1301.84 704.13L1301.97 700.07L1302.09 696.01L1302.21 691.95L1302.32 687.89L1302.44 683.83L1302.55 679.77L1302.67 675.72L1302.78 671.66L1302.89 667.60L1303.00 663.54L1303.11 659.48L1303.22 655.42L1303.33 651.36L1303.44 647.30L1303.56 643.24L1303.67 639.18L1303.79 635.12L1303.91 631.06L1304.03 627.01L1304.15 622.95L1304.27 618.89L1304.40 614.83L1304.53 610.77L1304.66 606.71L1304.80 602.66L1304.94 598.60L1305.09 594.54L1305.24 590.48L1305.39 586.43L1305.55 582.37L1305.72 578.31L1305.89 574.26L1306.06 570.20L1306.25 566.14L1306.43 562.09L1306.63 558.03L1306.83 553.98L1307.04 549.92L1307.26 545.87L1307.48 541.82L1307.71 537.76L1307.95 533.71L1308.20 529.66L1308.46 525.60L1308.72 521.55L1309.00 517.50L1310.30 514.50L1310.49 510.50L1310.69 506.50L1310.89 502.50L1311.09 498.50L1311.30 494.50L1311.51 490.51L1311.73 486.51L1311.95 482.51L1312.18 478.51L1312.41 474.51L1312.65 470.51L1312.89 466.51L1313.13 462.51L1313.38 458.52L1313.64 454.52L1313.90 450.52L1314.17 446.52L1314.44 442.53L1314.72 438.53L1315.00 434.53L1315.29 430.54L1315.58 426.54L1315.88 422.55L1316.18 418.55L1316.49 414.56L1316.81 410.56L1317.13 406.57L1317.46 402.58L1317.79 398.58L1318.13 394.59L1318.48 390.60L1318.83 386.61L1319.18 382.62L1319.55 378.63L1319.92 374.64L1320.30 370.65L1320.68 366.66L1321.07 362.68L1321.47 358.69L1321.87 354.71L1322.28 350.72L1322.69 346.74L1323.12 342.75L1323.55 338.77L1323.99 334.79L1324.43 330.81L1324.88 326.83L1325.34 322.85L1325.81 318.87L1326.28 314.89L1326.76 310.92L1327.25 306.94L1327.74 302.97L1328.25 298.99L1328.76 295.02L1329.27 291.05L1329.80 287.08L1330.33 283.11L1330.87 279.14L1331.42 275.18L1331.98 271.21L1332.55 267.25L1333.12 263.28L1333.70 259.32L1334.29 255.36L1334.89 251.40L1335.50 247.44L1336.11 243.49L1336.74 239.53L1337.37 235.57L1338.01 231.62L1338.66 227.67L1339.32 223.72L1339.98 219.77L1340.66 215.82L1341.34 211.88L1342.04 207.93L1342.74 203.99L1343.45 200.05L1344.18 196.11L1344.91 192.17L1345.65 188.23L1346.39 184.30L1347.15 180.36L1347.92 176.43L1348.70 172.50L1348.81 176.53L1348.92 180.56L1349.03 184.60L1349.14 188.63L1349.25 192.66L1349.37 196.69L1349.48 200.72L1349.60 204.75L1349.72 208.78L1349.84 212.82L1349.97 216.85L1350.09 220.88L1350.22 224.91L1350.35 228.94L1350.48 232.97L1350.61 237.00L1350.74 241.03L1350.87 245.06L1351.01 249.10L1351.15 253.13L1351.29 257.16L1351.43 261.19L1351.57 265.22L1351.71 269.25L1351.86 273.28L1352.01 277.31L1352.15 281.34L1352.30 285.37L1352.46 289.40L1352.61 293.43L1352.76 297.46L1352.92 301.49L1353.08 305.52L1353.24 309.55L1353.40 313.58L1353.56 317.61L1353.72 321.64L1353.89 325.67L1354.05 329.70L1354.22 333.73L1354.39 337.76L1354.56 341.79L1354.74 345.81L1354.91 349.84L1355.09 353.87L1355.26 357.90L1355.44 361.93L1355.62 365.96L1355.81 369.99L1355.99 374.02L1356.17 378.05L1356.36 382.07L1356.55 386.10L1356.74 390.13L1356.93 394.16L1357.12 398.19L1357.31 402.21L1357.51 406.24L1357.71 410.27L1357.90 414.30L1358.10 418.33L1358.30 422.35L1358.51 426.38L1358.71 430.41L1358.92 434.44L1359.12 438.46L1359.33 442.49L1359.54 446.52L1359.75 450.55L1359.96 454.57L1360.18 458.60L1360.39 462.63L1360.61 466.65L1360.83 470.68L1361.05 474.71L1361.27 478.74L1361.49 482.76L1361.71 486.79L1361.94 490.81L1362.17 494.84L1362.39 498.87L1362.62 502.89L1362.85 506.92L1363.09 510.95L1363.32 514.97L1363.56 519.00L1363.79 523.02L1364.03 527.05L1364.27 531.07L1364.51 535.10L1364.75 539.13L1364.99 543.15L1365.24 547.18L1365.48 551.20L1365.73 555.23L1365.98 559.25L1366.23 563.28L1366.48 567.30L1366.73 571.33L1366.99 575.35L1367.24 579.38L1367.50 583.40L1368.00 587.50L1369.80 590.50L1369.99 594.51L1370.19 598.51L1370.38 602.51L1370.57 606.52L1370.76 610.52L1370.96 614.52L1371.16 618.52L1371.37 622.52L1371.58 626.52L1371.80 630.52L1372.03 634.52L1372.27 638.52L1372.53 642.51L1372.79 646.51L1373.07 650.50L1373.36 654.49L1373.67 658.48L1374.00 662.47L1374.35 666.46L1374.71 670.45L1375.10 674.44L1375.51 678.42L1375.94 682.41L1376.40 686.39L1376.88 690.37L1377.39 694.35L1377.93 698.32L1378.50 702.30L1379.00 706.50L1380.80 710.00L1380.97 711.99L1381.10 713.99L1381.26 715.99L1381.60 717.97L1381.78 719.96L1382.12 721.94L1381.91 723.97L1382.16 725.96L1382.16 727.97L1382.82 729.92L1383.12 731.90L1383.29 733.89L1383.21 735.91L1382.88 737.96L1383.52 739.90L1383.72 741.89L1384.72 743.80L1384.33 745.86L1384.52 747.85L1384.08 749.91L1384.63 751.86L1385.21 753.81L1385.66 755.78L1385.97 757.75L1385.41 759.83L1385.74 761.80L1385.61 763.83L1386.75 765.72L1386.86 767.72L1387.31 769.68L1386.87 771.74L1386.87 773.76L1387.29 775.72L1387.76 777.68L1388.64 779.59L1388.33 781.64L1388.61 783.62L1388.06 785.71L1388.86 787.62L1389.19 789.60L1390.00 791.51L1390.02 793.52L1389.79 795.57L1389.93 797.57L1389.99 799.58L1391.10 801.45L1391.21 803.45L1391.83 805.38L1391.22 807.48L1391.54 809.46L1391.68 811.46L1392.50 813.36L1393.13 815.29L1393.11 817.31L1393.26 819.31L1392.83 821.39L1393.70 823.29L1393.95 825.27L1395.00 827.14L1394.80 829.19L1394.92 831.19L1394.79 833.23L1395.18 835.20L1396.09 837.08L1396.41 839.05L1397.01 840.98L1396.42 843.10L1396.90 845.04L1396.89 847.07L1398.01 848.91L1398.39 850.88L1398.73 852.85L1398.65 854.89L1398.49 856.94L1399.24 858.84L1399.61 860.81L1400.73 862.64L1400.48 864.71L1400.84 866.68L1400.50 868.77L1401.23 870.67L1401.89 872.58L1402.55 874.50L1402.96 876.45L1402.60 878.55L1403.04 880.50L1403.07 882.53L1404.35 884.33L1404.60 886.32L1405.24 888.23L1404.92 890.33L1405.13 892.32L1405.64 894.26L1406.31 896.17L1407.31 898.01L1407.21 900.07L1407.63 902.02L1407.25 904.15L1408.22 905.99L1408.68 907.94L1409.69 909.77L1409.84 911.78L1409.85 913.83L1410.09 915.82L1410.37 917.81L1411.61 919.59L1411.91 921.57L1412.71 923.44L1412.27 925.60L1412.80 927.53L1413.07 929.52L1414.13 931.33L1414.86 933.22L1415.10 935.22L1415.37 937.22L1415.18 939.32L1416.20 941.14L1416.64 943.09L1417.89 944.85L1417.83 946.93L1418.22 948.90L1418.20 950.98L1418.90 952.87L1419.89 954.68L1420.50 956.60L1421.19 958.49L1420.86 960.65L1421.54 962.55L1421.73 964.58L1423.12 966.28L1423.57 968.24L1424.22 970.15L1424.18 972.24L1424.44 974.26L1425.27 976.11L1425.99 977.99L1427.18 979.74L1427.16 981.84L1427.75 983.76L1427.59 985.90L1428.74 987.66L1429.43 989.55L1430.50 991.32L1430.85 993.31L1430.96 995.38L1431.49 997.32L1431.96 999.28L1433.41 1000.91L1433.85 1002.88L1434.77 1004.68L1434.56 1006.87L1435.31 1008.73L1435.89 1010.65L1437.10 1012.35L1438.04 1014.14L1438.40 1016.13L1438.94 1018.06L1439.01 1020.17L1440.33 1021.81L1441.01 1023.69L1442.41 1025.29L1442.62 1027.35L1443.20 1029.27L1443.58 1031.27L1444.48 1033.05L1445.83 1034.65L1446.58 1036.49L1447.59 1038.22L1447.55 1040.41L1448.55 1042.15L1449.12 1044.08L1450.68 1045.55L1451.58 1047.32L1452.36 1049.14L1452.90 1051.09L1453.31 1053.10L1454.65 1054.66L1455.56 1056.42L1457.17 1057.82L1457.56 1059.86L1458.46 1061.63L1458.89 1063.66L1460.10 1065.26L1461.46 1066.77L1462.58 1068.41L1463.75 1070.02L1464.04 1072.15L1465.20 1073.77L1465.93 1075.66L1467.72 1076.87L1468.79 1078.55L1469.97 1080.14L1470.67 1082.06L1471.43 1083.95L1472.84 1085.39L1474.03 1086.98L1475.84 1088.12L1476.57 1090.05L1477.80 1091.61L1478.42 1093.65L1479.93 1095.00L1481.39 1096.39L1482.91 1097.72L1484.23 1099.22L1485.07 1101.13L1486.41 1102.62L1487.56 1104.29L1489.35 1105.38L1490.66 1106.90L1492.15 1108.26L1493.31 1109.95L1494.71 1111.41L1496.17 1112.81L1497.70 1114.15L1499.23 1115.50L1500.69 1116.92L1502.20 1118.30" fill="none" stroke="#cc3300" stroke-width="10.8" stroke-linecap="round" stroke-linejoin="round"/>
<path d="M333.5 328.1L1438.3 156.3" fill="none" stroke="#0066cc" stroke-width="5.8" stroke-linecap="round" stroke-dasharray="28.1 40.0" stroke-dashoffset="0"/>
<path d="M244.1 1334.6L1540.2 1139.8" fill="none" stroke="#0066cc" stroke-width="5.8" stroke-linecap="round" stroke-dasharray="28.1 40.0" stroke-dashoffset="0"/>
<path d="M368.4 322.6H464.8M439.4 1290.5H572.9" fill="none" stroke="#000" stroke-width="3.0" stroke-linecap="round"/>
<path d="M449.95 342.1V589.4M449.95 790.7V1271.0" fill="none" stroke="#000" stroke-width="3.4"/>
<path d="M449.95 325.1L467.45 358.40000000000003L449.95 342.1L432.45 358.40000000000003Z" fill="#000" stroke="#000" stroke-width="3.0" stroke-linejoin="round"/>
<path d="M449.95 1288.0L467.45 1254.7L449.95 1271.0L432.45 1254.7Z" fill="#000" stroke="#000" stroke-width="3.0" stroke-linejoin="round"/>
<text transform="translate(473.8 790.7) rotate(-90) scale(0.95 1)" font-family="'Liberation Sans',sans-serif" font-size="62.8" fill="#000" stroke="#000" stroke-width="0.9" stroke-linejoin="round" x="2.89 35.74 70.68 89.21 125.37 160.00">10.81 <tspan x="178.11" textLength="31.79" lengthAdjust="spacingAndGlyphs">K</tspan></text>
<path d="M692.2 271.3H788.3M763.4 1239.8H896.6" fill="none" stroke="#000" stroke-width="3.0" stroke-linecap="round"/>
<path d="M773.65 290.8V539.2M773.65 739.3V1220.3" fill="none" stroke="#000" stroke-width="3.4"/>
<path d="M773.65 273.8L791.15 307.1L773.65 290.8L756.15 307.1Z" fill="#000" stroke="#000" stroke-width="3.0" stroke-linejoin="round"/>
<path d="M773.65 1237.3L791.15 1204.0L773.65 1220.3L756.15 1204.0Z" fill="#000" stroke="#000" stroke-width="3.0" stroke-linejoin="round"/>
<text transform="translate(798.3 739.3) rotate(-90) scale(0.95 1)" font-family="'Liberation Sans',sans-serif" font-size="62.8" fill="#000" stroke="#000" stroke-width="0.9" stroke-linejoin="round" x="2.89 35.74 70.68 89.21 125.37 160.00">10.64 <tspan x="178.11" textLength="31.79" lengthAdjust="spacingAndGlyphs">K</tspan></text>
<path d="M1024.8 222.1H1120.3M1095.9 1190.0H1229.0" fill="none" stroke="#000" stroke-width="3.0" stroke-linecap="round"/>
<path d="M1105.95 241.6V488.7M1105.95 690.1V1170.5" fill="none" stroke="#000" stroke-width="3.4"/>
<path d="M1105.95 224.6L1123.45 257.9L1105.95 241.6L1088.45 257.9Z" fill="#000" stroke="#000" stroke-width="3.0" stroke-linejoin="round"/>
<path d="M1105.95 1187.5L1123.45 1154.2L1105.95 1170.5L1088.45 1154.2Z" fill="#000" stroke="#000" stroke-width="3.0" stroke-linejoin="round"/>
<text transform="translate(1131.3 690.0) rotate(-90) scale(0.95 1)" font-family="'Liberation Sans',sans-serif" font-size="62.8" fill="#000" stroke="#000" stroke-width="0.9" stroke-linejoin="round" x="2.89 35.74 70.68 89.21 125.37 160.00">10.60 <tspan x="178.11" textLength="31.79" lengthAdjust="spacingAndGlyphs">K</tspan></text>
<text transform="translate(174.6 1404.05) scale(0.957 1)" text-anchor="end" font-family="'Liberation Sans',sans-serif" font-size="63.5" fill="#000">0</text>
<text transform="translate(174.6 1212.53) scale(0.957 1)" text-anchor="end" font-family="'Liberation Sans',sans-serif" font-size="63.5" fill="#000">2</text>
<text transform="translate(174.6 1021.01) scale(0.957 1)" text-anchor="end" font-family="'Liberation Sans',sans-serif" font-size="63.5" fill="#000">4</text>
<text transform="translate(174.6 829.49) scale(0.957 1)" text-anchor="end" font-family="'Liberation Sans',sans-serif" font-size="63.5" fill="#000">6</text>
<text transform="translate(174.6 637.97) scale(0.957 1)" text-anchor="end" font-family="'Liberation Sans',sans-serif" font-size="63.5" fill="#000">8</text>
<text transform="translate(174.6 446.45) scale(0.957 1)" text-anchor="end" font-family="'Liberation Sans',sans-serif" font-size="63.5" fill="#000">10</text>
<text transform="translate(174.6 254.93) scale(0.957 1)" text-anchor="end" font-family="'Liberation Sans',sans-serif" font-size="63.5" fill="#000">12</text>
<text transform="translate(174.6 63.41) scale(0.957 1)" text-anchor="end" font-family="'Liberation Sans',sans-serif" font-size="63.5" fill="#000">14</text>
<text transform="translate(243.80 1513.6) scale(0.957 1)" text-anchor="middle" font-family="'Liberation Sans',sans-serif" font-size="63.5" fill="#000">0</text>
<text transform="translate(467.30 1513.6) scale(0.957 1)" text-anchor="middle" font-family="'Liberation Sans',sans-serif" font-size="63.5" fill="#000">100</text>
<text transform="translate(690.80 1513.6) scale(0.957 1)" text-anchor="middle" font-family="'Liberation Sans',sans-serif" font-size="63.5" fill="#000">200</text>
<text transform="translate(914.30 1513.6) scale(0.957 1)" text-anchor="middle" font-family="'Liberation Sans',sans-serif" font-size="63.5" fill="#000">300</text>
<text transform="translate(1137.80 1513.6) scale(0.957 1)" text-anchor="middle" font-family="'Liberation Sans',sans-serif" font-size="63.5" fill="#000">400</text>
<text transform="translate(1361.30 1513.6) scale(0.957 1)" text-anchor="middle" font-family="'Liberation Sans',sans-serif" font-size="63.5" fill="#000">500</text>
<text transform="translate(1584.80 1513.6) scale(0.957 1)" text-anchor="middle" font-family="'Liberation Sans',sans-serif" font-size="63.5" fill="#000">600</text>
<text transform="translate(0 1604.3)" font-family="'Liberation Sans',sans-serif" font-size="70" fill="#000"><tspan x="811.50" textLength="21.78" lengthAdjust="spacingAndGlyphs">t</tspan><tspan x="835.36" textLength="17.42" lengthAdjust="spacingAndGlyphs">i</tspan><tspan x="853.28" textLength="60.51" lengthAdjust="spacingAndGlyphs">m</tspan><tspan x="913.76" textLength="37.22" lengthAdjust="spacingAndGlyphs">e</tspan><tspan x="948.56" textLength="21.78" lengthAdjust="spacingAndGlyphs">,</tspan> <tspan x="987.98" textLength="29.13" lengthAdjust="spacingAndGlyphs">s</tspan></text>
<text transform="translate(71.6 955.5) rotate(-90)" font-family="'Liberation Sans',sans-serif" font-size="70" fill="#000"><tspan x="-0.20" textLength="21.78" lengthAdjust="spacingAndGlyphs">t</tspan><tspan x="23.20" textLength="36.62" lengthAdjust="spacingAndGlyphs">e</tspan><tspan x="61.69" textLength="59.09" lengthAdjust="spacingAndGlyphs">m</tspan><tspan x="121.97" textLength="38.21" lengthAdjust="spacingAndGlyphs">p</tspan><tspan x="161.40" textLength="36.62" lengthAdjust="spacingAndGlyphs">e</tspan><tspan x="198.54" textLength="26.11" lengthAdjust="spacingAndGlyphs">r</tspan><tspan x="222.58" textLength="33.48" lengthAdjust="spacingAndGlyphs">a</tspan><tspan x="259.25" textLength="21.78" lengthAdjust="spacingAndGlyphs">t</tspan><tspan x="286.40" textLength="36.00" lengthAdjust="spacingAndGlyphs">u</tspan><tspan x="324.09" textLength="26.11" lengthAdjust="spacingAndGlyphs">r</tspan><tspan x="350.50" textLength="36.62" lengthAdjust="spacingAndGlyphs">e</tspan><tspan x="384.01" textLength="21.78" lengthAdjust="spacingAndGlyphs">,</tspan> <tspan x="420.85" textLength="30.53" lengthAdjust="spacingAndGlyphs">°</tspan><tspan x="449.11" textLength="41.05" lengthAdjust="spacingAndGlyphs">C</tspan></text>
</svg>
</body>
</html>
